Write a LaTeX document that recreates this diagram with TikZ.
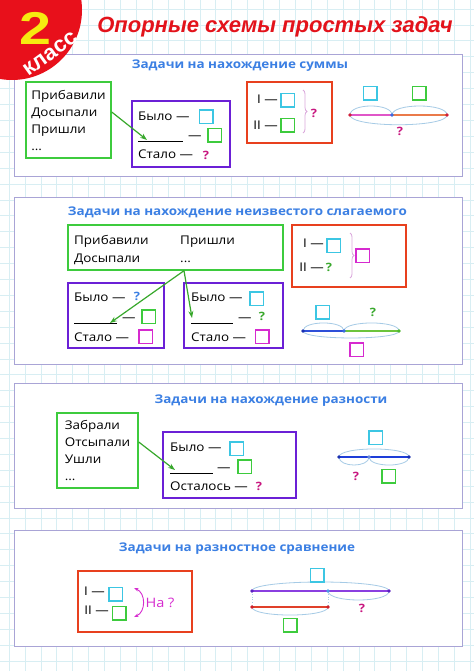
\documentclass[tikz,border=0pt]{standalone}
\usepackage{fontspec}
\setmainfont{Open Sans}[FakeStretch=1.12]
\newfontfamily\titlefont{Liberation Sans}
\usetikzlibrary{arrows.meta,decorations.pathreplacing}

\definecolor{gridc}{HTML}{D8EEF3}
\definecolor{framec}{HTML}{A9A4D6}
\definecolor{headc}{HTML}{3B7FE3}
\definecolor{grn}{HTML}{3DCB3D}
\definecolor{garc}{HTML}{38A82C}
\definecolor{vio}{HTML}{6B20D6}
\definecolor{redc}{HTML}{E8401E}
\definecolor{cyn}{HTML}{3CC6E3}
\definecolor{mag}{HTML}{C8157F}
\definecolor{sqm}{HTML}{D62ACF}
\definecolor{bracec}{HTML}{DBA8DC}
\definecolor{arcc}{HTML}{A6CBE6}
\definecolor{titlec}{HTML}{E3131B}
\definecolor{badgec}{HTML}{E8101B}
\definecolor{ylw}{HTML}{F6EA10}

\begin{document}
\begin{tikzpicture}[x=1pt, y=-1pt]
    \useasboundingbox (0,0) rectangle (474,671);

    % stijlen
    \tikzset{
        sect/.style={draw=framec, fill=white, line width=1pt},
        heading/.style={font=\bfseries\fontsize{12}{14}\selectfont, text=headc, inner sep=0pt},
        txt/.style={font=\fontsize{12}{17}\selectfont, inner sep=0pt, anchor=base west},
        gbox/.style={draw=grn, line width=1.4pt, fill=white, align=left, inner sep=0pt, font=\fontsize{12}{17}\selectfont},
        pbox/.style={draw=vio, line width=1.4pt, fill=white},
        rbox/.style={draw=redc, line width=1.4pt, fill=white},
        sq/.style={line width=1.5pt, minimum size=13.5pt, inner sep=0pt, fill=white},
        q/.style={font=\bfseries\fontsize{11.5}{13}\selectfont, text=mag, inner sep=0pt},
        garrow/.style={draw=garc, line width=1.2pt, -{Stealth[length=7pt,width=5pt]}},
        arcl/.style={draw=arcc, line width=0.8pt},
        seg/.style={line width=1.3pt},
        knot/.style={radius=1.8},
        brc/.style={draw=bracec, line width=0.8pt, decorate, decoration={brace, amplitude=4pt}},
        uline/.style={line width=1pt}
    }

    % achtergrond
    \fill[white] (0,0) rectangle (474,671);
    \foreach \k in {0,...,29} \draw[gridc, line width=0.6pt] (9+15.9*\k,0) -- (9+15.9*\k,671);
    \foreach \k in {0,...,41} \draw[gridc, line width=0.6pt] (0,9+15.9*\k) -- (474,9+15.9*\k);

    % titel
    \node[font=\titlefont\bfseries\itshape\fontsize{22}{24}\selectfont, text=titlec] (title) at (275,27) {Опорные схемы простых задач};

    % blok 1
    \draw[sect] (14,55) rectangle (462,176);
    \node[heading] (h1) at (240,66) {Задачи на нахождение суммы};
    \node[gbox, minimum width=85, minimum height=76] (sum1) at (68.5,120) {Прибавили\\Досыпали\\Пришли\\...};
    \node[pbox, minimum width=98, minimum height=66] (res1) at (181,134) {};
    \node[txt] (was1) at (138,121) {Было —};
    \node[sq, draw=cyn] (was1c) at (206,117) {};
    \draw[uline] (138,142) -- (183,142);
    \node[txt] (add1) at (188,140) {—};
    \node[sq, draw=grn] (add1g) at (214.5,135.5) {};
    \node[txt] (now1) at (138,159) {Стало —};
    \node[q] (now1q) at (206,155) {?};
    \coordinate (a1) at (147,140);
    \draw[garrow] ([yshift=8pt]sum1.east) -- (a1);

    \node[rbox, minimum width=85, minimum height=61] (two1) at (289.5,112.5) {};
    \node[txt, anchor=base east] (i1) at (278,104) {I —};
    \node[sq, draw=cyn] (i1c) at (287.5,100.5) {};
    \node[txt, anchor=base east] (ii1) at (278,130) {II —};
    \node[sq, draw=grn] (ii1g) at (287.5,125.5) {};
    \draw[brc] (303,90) -- (303,133);
    \node[q] (two1q) at (314,113) {?};

    \coordinate (l1) at (350,115);
    \coordinate (m1) at (392,115);
    \coordinate (r1) at (447,115);
    \draw[arcl] (l1) .. controls +(0,-12) and +(0,-12) .. (m1) .. controls +(0,-12) and +(0,-12) .. (r1);
    \draw[arcl] (l1) .. controls +(0,13) and +(0,13) .. (r1);
    \draw[seg, color={rgb,255:red,224;green,86;blue,200}] (l1) -- (m1);
    \draw[seg, color={rgb,255:red,234;green,122;blue,74}] (m1) -- (r1);
    \fill[color={rgb,255:red,208;green,32;blue,58}] (l1) circle[knot] (r1) circle[knot];
    \fill[color={rgb,255:red,58;green,108;blue,224}] (m1) circle[knot];
    \node[sq, draw=cyn] (c1) at (370,93.5) {};
    \node[sq, draw=grn] (g1) at (419,93.5) {};
    \node[q] (q1) at (400,131) {?};

    % blok 2
    \draw[sect] (14,197) rectangle (462,364);
    \node[heading] (h2) at (237.5,212) {Задачи на нахождение неизвестого слагаемого};
    \node[gbox, minimum width=215, minimum height=45] (add2) at (175.5,247.5) {};
    \node[txt] (w2a) at (74,244) {Прибавили};
    \node[txt] (w2b) at (74,262) {Досыпали};
    \node[txt] (w2c) at (180,244) {Пришли};
    \node[txt] (w2d) at (180,262) {...};

    \node[pbox, minimum width=96, minimum height=65] (pl2) at (116,315.5) {};
    \node[txt] (was2) at (74,301) {Было —};
    \node[q, text=headc] (was2q) at (137,296) {?};
    \draw[uline] (74,323) -- (117,323);
    \node[txt] (ad2) at (122,321) {—};
    \node[sq, draw=grn] (ad2g) at (148.5,316.5) {};
    \node[txt] (now2) at (74,341) {Стало —};
    \node[sq, draw=sqm] (now2m) at (145.5,336.5) {};

    \node[pbox, minimum width=99, minimum height=65] (pr2) at (233.5,315.5) {};
    \node[txt] (was2r) at (191,301) {Было —};
    \node[sq, draw=cyn] (was2c) at (256.5,298.5) {};
    \draw[uline] (191,323) -- (233,323);
    \node[txt] (ad2r) at (238,321) {—};
    \node[q, text=garc] (ad2q) at (262,316) {?};
    \node[txt] (now2r) at (191,341) {Стало —};
    \node[sq, draw=sqm] (now2rm) at (262,336.5) {};

    \coordinate (a2) at (110,323);
    \coordinate (b2) at (192,318);
    \draw[garrow] ([xshift=8.5pt]add2.south) -- (a2);
    \draw[garrow] ([xshift=8.5pt]add2.south) -- (b2);

    \node[rbox, minimum width=114, minimum height=62] (rb2) at (349,256) {};
    \node[txt, anchor=base east] (i2) at (324,247) {I —};
    \node[sq, draw=cyn] (i2c) at (333.5,245.5) {};
    \node[txt, anchor=base east] (ii2) at (324,271) {II —};
    \node[q, text=garc] (ii2q) at (329,267) {?};
    \draw[brc] (350,233) -- (350,278);
    \node[sq, draw=sqm] (rb2m) at (362.5,255.5) {};

    \coordinate (l2) at (303,331);
    \coordinate (m2) at (344,331);
    \coordinate (r2) at (399,331);
    \draw[arcl] (l2) .. controls +(0,-10.7) and +(0,-10.7) .. (m2) .. controls +(0,-10.7) and +(0,-10.7) .. (r2);
    \draw[arcl] (l2) .. controls +(0,9.3) and +(0,9.3) .. (r2);
    \draw[seg, color={rgb,255:red,46;green,79;blue,216}] (l2) -- (m2);
    \draw[seg, color={rgb,255:red,108;green,196;blue,60}] (m2) -- (r2);
    \fill[color={rgb,255:red,26;green,47;blue,176}] (l2) circle[knot];
    \fill[color={rgb,255:red,58;green,108;blue,224}] (m2) circle[knot];
    \fill[color={rgb,255:red,77;green,184;blue,46}] (r2) circle[knot];
    \node[sq, draw=cyn] (c2) at (322.5,312) {};
    \node[q, text=garc] (q2) at (373,312) {?};
    \node[sq, draw=sqm] (m2sq) at (356.5,349.5) {};

    % blok 3
    \draw[sect] (14,383) rectangle (462,508);
    \node[heading] (h3) at (271,401) {Задачи на нахождение разности};
    \node[gbox, minimum width=81, minimum height=75] (take3) at (97.5,450.5) {Забрали\\Отсыпали\\Ушли\\...};
    \node[pbox, minimum width=133, minimum height=66] (res3) at (229.5,465) {};
    \node[txt] (was3) at (170,451) {Было —};
    \node[sq, draw=cyn] (was3c) at (236.5,448.5) {};
    \draw[uline] (170,473) -- (213,473);
    \node[txt] (sub3) at (217,471) {—};
    \node[sq, draw=grn] (sub3g) at (244.5,466.5) {};
    \node[txt] (left3) at (170,490) {Осталось —};
    \node[q] (left3q) at (259,486) {?};
    \coordinate (a3) at (175,470);
    \draw[garrow] ([yshift=8.5pt]take3.east) -- (a3);

    \coordinate (l3) at (339,457);
    \coordinate (m3) at (369,457);
    \coordinate (r3) at (409,457);
    \draw[arcl] (l3) .. controls +(0,-10.7) and +(0,-10.7) .. (r3);
    \draw[arcl] (l3) .. controls +(0,10.7) and +(0,10.7) .. (m3) .. controls +(0,10.7) and +(0,10.7) .. (r3);
    \draw[seg, color={rgb,255:red,30;green,62;blue,216}] (l3) -- (r3);
    \fill[color={rgb,255:red,26;green,47;blue,176}] (l3) circle[knot] (r3) circle[knot];
    \fill[color={rgb,255:red,106;green,139;blue,224}] (m3) circle[knot];
    \node[sq, draw=cyn] (c3) at (375.5,437.5) {};
    \node[q] (q3) at (356,476) {?};
    \node[sq, draw=grn] (g3) at (388.5,476) {};

    % blok 4
    \draw[sect] (14,530) rectangle (462,646);
    \node[heading] (h4) at (237,549) {Задачи на разностное сравнение};
    \node[rbox, minimum width=114, minimum height=61] (cmp4) at (135,601.5) {};
    \node[txt, anchor=base east] (i4) at (105,595) {I —};
    \node[sq, draw=cyn] (i4c) at (115.5,594) {};
    \node[txt, anchor=base east] (ii4) at (109,614) {II —};
    \node[sq, draw=grn] (ii4g) at (119,613) {};
    \coordinate (ca) at (134,588);
    \coordinate (cb) at (134,617);
    \draw[sqm, line width=0.9pt, {Stealth[length=4.5pt]}-{Stealth[length=4.5pt]}] (ca) .. controls +(12,5) and +(12,-5) .. (cb);
    \node[txt, text=sqm, font=\fontsize{13}{15}\selectfont, anchor=center] (by4) at (160,603) {На ?};

    \coordinate (l4) at (252,591);
    \coordinate (m4) at (328,591);
    \coordinate (r4) at (389,591);
    \coordinate (l4b) at (252,607);
    \coordinate (m4b) at (328,607);
    \draw[arcl] (l4) .. controls +(0,-12) and +(0,-12) .. (r4);
    \draw[arcl] (m4) .. controls +(0,12) and +(0,12) .. (r4);
    \draw[arcl] (l4b) .. controls +(0,10.7) and +(0,10.7) .. (m4b);
    \draw[arcc, dotted, line width=0.8pt] (l4) -- (l4b) (m4) -- (m4b);
    \draw[seg, color={rgb,255:red,138;green,63;blue,224}] (l4) -- (r4);
    \draw[seg, color={rgb,255:red,224;green,64;blue,42}] (l4b) -- (m4b);
    \fill[color={rgb,255:red,90;green,32;blue,192}] (l4) circle[knot] (r4) circle[knot];
    \fill[color={rgb,255:red,74;green,154;blue,232}] (m4) circle[knot];
    \fill[color={rgb,255:red,208;green,32;blue,42}] (l4b) circle[knot] (m4b) circle[knot];
    \node[sq, draw=cyn] (c4) at (317,575) {};
    \node[q] (q4) at (362,608) {?};
    \node[sq, draw=grn] (g4) at (290,625) {};

    % klasse-embleem bovenop
    \begin{scope}
        \clip (0,0) rectangle (474,671);
        \fill[badgec] (12,10) circle[radius=70];
    \end{scope}
    \node[font=\titlefont\bfseries\fontsize{46}{46}\selectfont, text=ylw, xscale=1.25] (two) at (35,28) {2};
    \node[font=\titlefont\bfseries\fontsize{22}{22}\selectfont, text=white, rotate=36] (klass) at (50,54) {класс};
\end{tikzpicture}
\end{document}
